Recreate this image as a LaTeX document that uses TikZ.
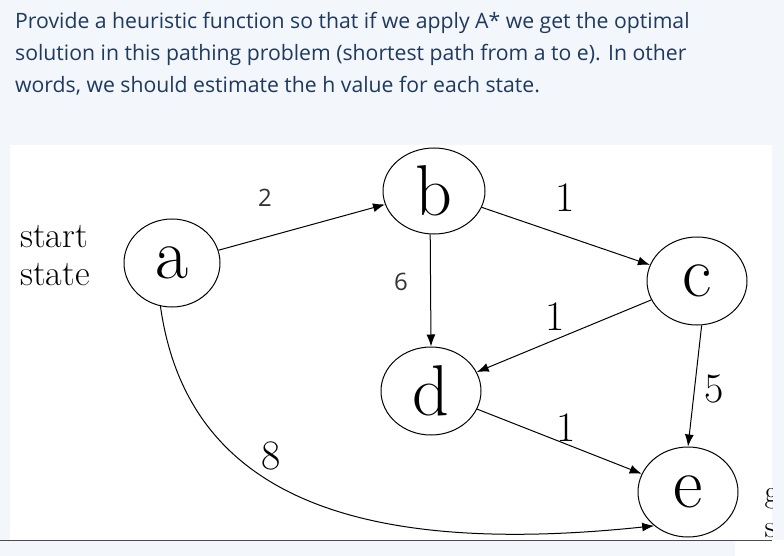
\documentclass[tikz,border=0pt]{standalone}
\usepackage{fontspec}
\newfontfamily\osans{Open Sans}
\usetikzlibrary{shapes.geometric,arrows.meta}
\definecolor{bgc}{HTML}{F3F6FA}
\definecolor{txc}{HTML}{1E3A5F}
\begin{document}
\begin{tikzpicture}[x=1pt,y=-1pt,
  st/.style={draw,ellipse,line width=1pt,inner sep=0,font=\fontsize{72}{72}\selectfont},
  ed/.style={line width=1pt,-{Latex[length=12pt,width=9pt]}},
  sn/.style={font=\osans\fontsize{24}{24}\selectfont,text=black!80},
  rn/.style={font=\fontsize{42}{42}\selectfont}]
\useasboundingbox (0,0) rectangle (784,556);
\fill[bgc] (0,0) rectangle (784,556);
\fill[white] (10,145) rectangle (772,540);
\fill[white] (735,540) rectangle (784,556);
\fill[bgc] (740,0) rectangle (784,145);
\node[anchor=base west,text=txc,font=\osans\fontsize{21.2}{21}\selectfont,inner sep=0] (t1) at (15,29) {Provide a heuristic function so that if we apply A* we get the optimal};
\node[anchor=base west,text=txc,font=\osans\fontsize{21.2}{21}\selectfont,inner sep=0] (t2) at (15,61) {solution in this pathing problem (shortest path from a to e). In other};
\node[anchor=base west,text=txc,font=\osans\fontsize{21.2}{21}\selectfont,inner sep=0] (t3) at (15,93) {words, we should estimate the h value for each state.};
\node[st,minimum width=96,minimum height=88] (a) at (172,263) {a};
\node[st,minimum width=102,minimum height=86] (b) at (434,191) {b};
\node[st,minimum width=100,minimum height=88] (c) at (697,281) {c};
\node[st,minimum width=100,minimum height=88] (d) at (431,391) {d};
\node[st,minimum width=100,minimum height=90] (e) at (688,492) {e};
\node[font=\fontsize{36}{38}\selectfont,align=left,anchor=west,inner sep=0] (s) at (20,256) {start\\state};
\draw[ed] (a) -- (b);
\draw[ed] (b) -- (c);
\draw[ed] (b.-95) -- (d.north);
\draw[ed] (c) -- (d);
\draw[ed] (c.-84) -- (e.north);
\draw[ed] (d) -- (e);
\draw[ed] (a.-105) .. controls (185,480) and (330,560) .. (e.-135);
\node[rn] (l2) at (265,198) {\osans\fontsize{24}{24}\selectfont\color{black!80}2};
\node[rn] (l6) at (401,282) {\osans\fontsize{24}{24}\selectfont\color{black!80}6};
\node[rn] (l8) at (271,456) {8};
\node[rn] (l1a) at (565,198) {1};
\node[rn] (l1b) at (555,317) {1};
\node[rn] (l1c) at (566,428) {1};
\node[rn] (l5) at (714,389) {5};
\begin{scope}
\clip (750,470) rectangle (772,540);
\node[font=\fontsize{32}{32}\selectfont,anchor=base west] (g) at (761,502) {g};
\node[font=\fontsize{32}{32}\selectfont,anchor=base west] (S) at (761,537) {s};
\end{scope}
\draw[line width=1pt,black!70] (0,540) -- (772,540);
\end{tikzpicture}
\end{document}
